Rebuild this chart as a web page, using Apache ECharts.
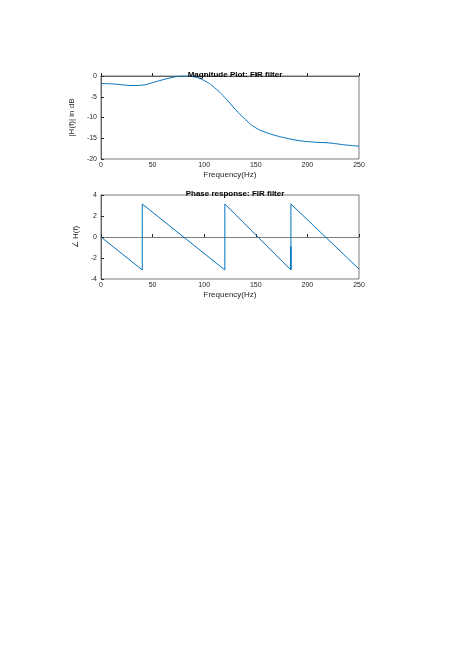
<!DOCTYPE html><html><head><meta charset="utf-8"><script src="https://cdn.jsdelivr.net/npm/echarts@6/dist/echarts.min.js"></script></head><body style="margin:0;background:#fff"><div id="c" style="width:474px;height:670px"></div><script>
const magFreq=[0,10,20,30,40,50,60,70,80,90,100,110,120,130,140,150,160,170,180,190,200,210,220,230,240,250];
const magDb=[-1.8,-1.9,-2.1,-2.3,-2.2,-1.6,-0.9,-0.3,0,-0.2,-1.1,-2.8,-5.2,-8,-10.5,-12.5,-13.6,-14.4,-15,-15.5,-15.8,-16,-16.1,-16.4,-16.7,-16.9];
const phFreq=[0,40,40.01,120,120.01,184,184.01,184.02,184.03,250];
const phVal=[0,-3.14,3.14,-3.14,3.14,-3.14,-0.9,-3.1,3.14,-3.05];
const xTicks=[0,50,100,150,200,250];
const ch=echarts.init(document.getElementById('c'));
const fs=7,col='#262626';
function xa(i){return {type:'value',gridIndex:i,min:0,max:250,interval:50,name:'Frequency(Hz)',nameLocation:'middle',nameGap:12,nameTextStyle:{fontSize:fs+1,color:col},axisLine:{lineStyle:{color:col,width:0.6}},axisTick:{inside:true,length:3,lineStyle:{color:col}},axisLabel:{fontSize:fs,color:col,margin:3},splitLine:{show:false}};}
function ya(i,min,max,iv,name){return {type:'value',gridIndex:i,min:min,max:max,interval:iv,name:name,nameLocation:'middle',nameGap:13,nameTextStyle:{fontSize:fs+1,color:col},axisLine:{show:true,lineStyle:{color:col,width:0.6}},axisTick:{inside:true,length:3,lineStyle:{color:col}},axisLabel:{fontSize:fs,color:col,margin:4},splitLine:{show:false}};}
ch.setOption({animation:false,
title:[{text:'Magnitude Plot: FIR filter',left:230,top:66,textAlign:'center',textStyle:{fontSize:fs+1,fontWeight:'bold',color:'#000'}},
{text:'Phase response: FIR filter',left:230,top:185,textAlign:'center',textStyle:{fontSize:fs+1,fontWeight:'bold',color:'#000'}}],
grid:[{left:101,right:115,top:76,height:83,show:true,borderColor:col,borderWidth:0.6},{left:101,right:115,top:195,height:84,show:true,borderColor:col,borderWidth:0.6}],
xAxis:[xa(0),xa(1)],
yAxis:[ya(0,-20,0,5,'|H(f)| in dB'),ya(1,-4,4,2,'∠ H(f)')],
series:[{type:'line',xAxisIndex:0,yAxisIndex:0,smooth:true,showSymbol:false,lineStyle:{color:'#0072BD',width:1},data:magFreq.map((f,i)=>[f,magDb[i]])},
{type:'line',xAxisIndex:1,yAxisIndex:1,showSymbol:false,lineStyle:{color:'#0072BD',width:1},data:phFreq.map((f,i)=>[f,phVal[i]])}]});
</script></body></html>
